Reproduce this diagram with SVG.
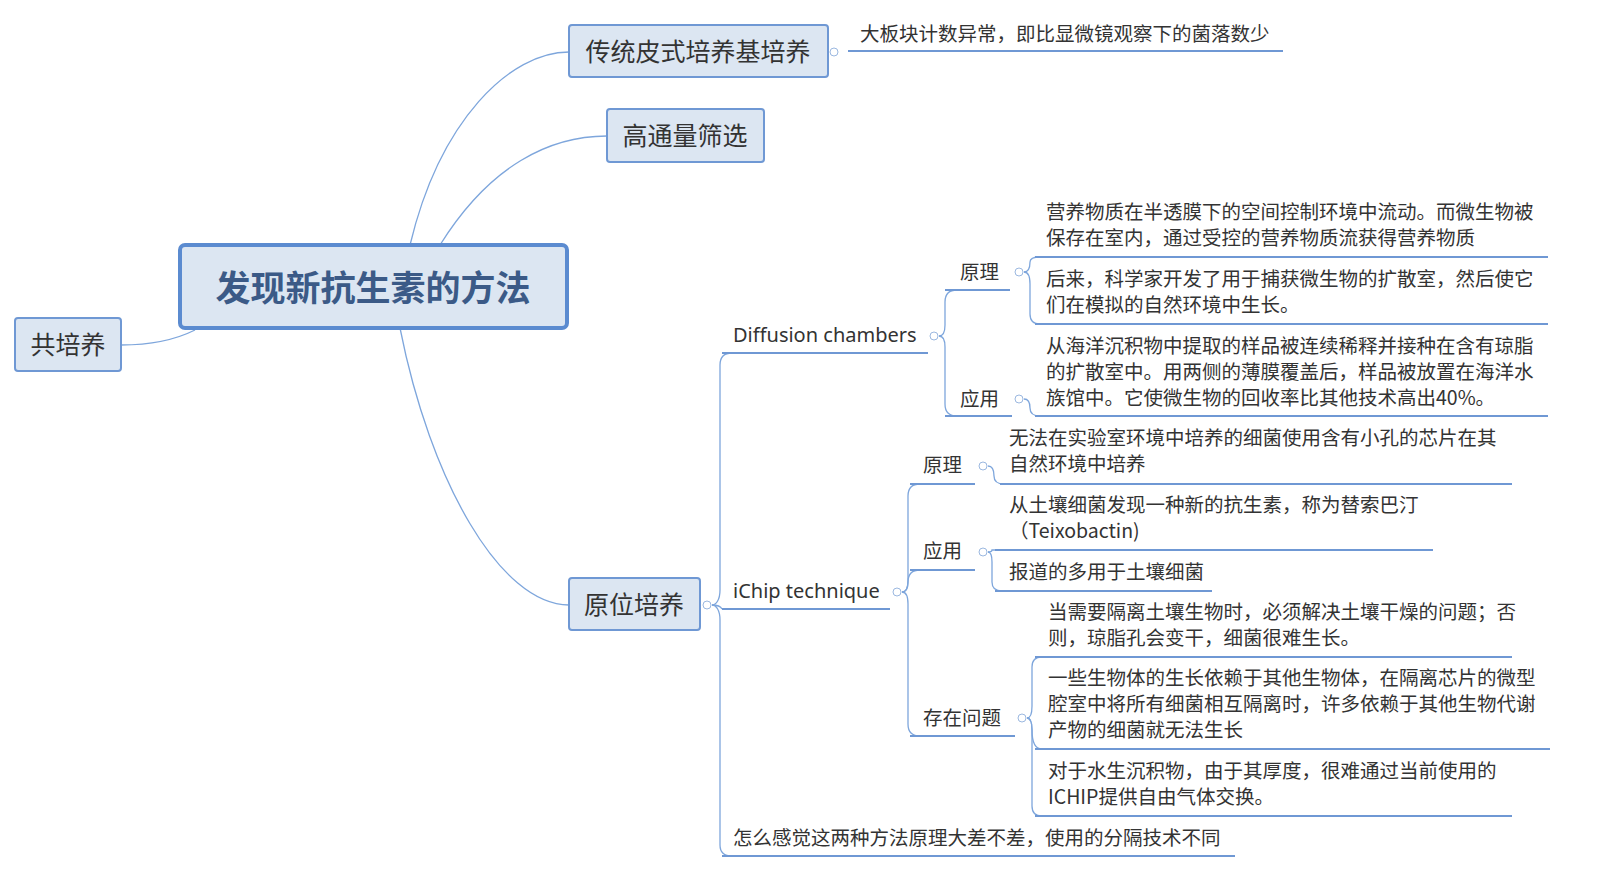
<svg xmlns="http://www.w3.org/2000/svg" width="1600" height="891" viewBox="0 0 1600 891">
<style>
text{font-family:"Noto Sans CJK SC","Microsoft YaHei",sans-serif;fill:#333}
.box{fill:#dce6f2;stroke:#6f98d4;stroke-width:2}
.t{font-size:25px}
.s{font-size:19.5px}
.e{font-size:20px;font-family:"Noto Sans",sans-serif}
.c{fill:none;stroke:#7ea6dc;stroke-width:1.3}
.u{fill:none;stroke:#6f98d4;stroke-width:2}
.m{fill:#fff;stroke:#9bb8e0;stroke-width:1}
</style>
<rect width="1600" height="891" fill="#fff"/>
<g id="connectors">
<path class="c" d="M410,245 C440,120 510,52 569,52"/>
<path class="c" d="M440,245 C490,165 550,136 607,136"/>
<path class="c" d="M195,330 C175,340 150,345 121,345"/>
<path class="c" d="M400,328 C430,480 500,605 569,605"/>
<path class="c" d="M712,605 C716,605 720,600 720,590 L720,365 Q720,353 732,353"/>
<path class="c" d="M712,605 Q720,605 722,609"/>
<path class="c" d="M712,605 C716,605 720,610 720,620 L720,845 Q720,856 732,856"/>
<path class="c" d="M939,336 Q945,336 945,325 L945,302 Q945,290 957,290"/>
<path class="c" d="M939,336 Q945,336 945,347 L945,404 Q945,416 957,416"/>
<path class="c" d="M1024,272 Q1030,272 1030,262 Q1030,257 1040,257"/>
<path class="c" d="M1024,272 Q1030,272 1030,284 L1030,314 Q1030,324 1040,324"/>
<path class="c" d="M1024,399 Q1030,399 1030,408 Q1030,416 1040,416"/>
<path class="c" d="M902,592 Q908,592 908,580 L908,496 Q908,484 920,484"/>
<path class="c" d="M902,592 Q908,592 908,582 Q908,570 920,570"/>
<path class="c" d="M902,592 Q908,592 908,604 L908,724 Q908,736 920,736"/>
<path class="c" d="M988,466 Q994,466 994,476 Q994,484 1004,484"/>
<path class="c" d="M988,552 Q992,552 992,550 L1000,550"/>
<path class="c" d="M988,552 Q992,552 992,562 L992,582 Q992,591 1002,591"/>
<path class="c" d="M1027,718 Q1032,718 1032,706 L1032,667 Q1032,657 1042,657"/>
<path class="c" d="M1027,718 Q1032,718 1032,730 Q1032,749 1042,749"/>
<path class="c" d="M1027,718 Q1032,718 1032,730 L1032,806 Q1032,816 1042,816"/>
</g>
<g id="root"><rect x="180" y="245" width="387" height="83" rx="5" fill="#dce6f2" stroke="#5b8bd0" stroke-width="4"/><text x="373" y="301" text-anchor="middle" font-size="35" font-weight="bold" style="fill:#3b5a87">发现新抗生素的方法</text></g>
<g id="n-gong"><rect class="box" x="15" y="318" width="106" height="53" rx="3"/><text class="t" x="68" y="354" text-anchor="middle">共培养</text></g>
<g id="n-chuan"><rect class="box" x="569" y="25" width="259" height="52" rx="3"/><text class="t" x="698" y="61" text-anchor="middle">传统皮式培养基培养</text><circle class="m" cx="834" cy="52" r="4"/></g>
<g id="n-gao"><rect class="box" x="607" y="109" width="157" height="53" rx="3"/><text class="t" x="685" y="145" text-anchor="middle">高通量筛选</text></g>
<g id="n-yuan"><rect class="box" x="569" y="578" width="131" height="52" rx="3"/><text class="t" x="634" y="614" text-anchor="middle">原位培养</text><circle class="m" cx="707" cy="605" r="4"/></g>
<g id="l1"><text class="s" x="860" y="41">大板块计数异常，即比显微镜观察下的菌落数少</text><line class="u" x1="848" y1="51" x2="1283" y2="51"/></g>
<g id="dc"><text class="e" x="733" y="342">Diffusion chambers</text><line class="u" x1="722" y1="353" x2="928" y2="353"/><circle class="m" cx="934" cy="336" r="4"/></g>
<g id="dc-yl"><text class="s" x="960" y="279">原理</text><line class="u" x1="945" y1="290" x2="1010" y2="290"/><circle class="m" cx="1019" cy="272" r="4"/></g>
<g id="dc-yl1"><text class="s" x="1046" y="219">营养物质在半透膜下的空间控制环境中流动。而微生物被</text><text class="s" x="1046" y="245">保存在室内，通过受控的营养物质流获得营养物质</text><line class="u" x1="1035" y1="257" x2="1548" y2="257"/></g>
<g id="dc-yl2"><text class="s" x="1046" y="286">后来，科学家开发了用于捕获微生物的扩散室，然后使它</text><text class="s" x="1046" y="312">们在模拟的自然环境中生长。</text><line class="u" x1="1035" y1="324" x2="1548" y2="324"/></g>
<g id="dc-yy"><text class="s" x="960" y="406">应用</text><line class="u" x1="945" y1="416" x2="1012" y2="416"/><circle class="m" cx="1019" cy="399" r="4"/></g>
<g id="dc-yy1"><text class="s" x="1046" y="353">从海洋沉积物中提取的样品被连续稀释并接种在含有琼脂</text><text class="s" x="1046" y="379">的扩散室中。用两侧的薄膜覆盖后，样品被放置在海洋水</text><text class="s" x="1046" y="405">族馆中。它使微生物的回收率比其他技术高出40%。</text><line class="u" x1="1035" y1="416" x2="1548" y2="416"/></g>
<g id="ic"><text class="e" x="733" y="598">iChip technique</text><line class="u" x1="722" y1="609" x2="890" y2="609"/><circle class="m" cx="897" cy="592" r="4"/></g>
<g id="ic-yl"><text class="s" x="923" y="472">原理</text><line class="u" x1="910" y1="484" x2="975" y2="484"/><circle class="m" cx="983" cy="466" r="4"/></g>
<g id="ic-yl1"><text class="s" x="1009" y="445">无法在实验室环境中培养的细菌使用含有小孔的芯片在其</text><text class="s" x="1009" y="471">自然环境中培养</text><line class="u" x1="1000" y1="484" x2="1512" y2="484"/></g>
<g id="ic-yy"><text class="s" x="923" y="558">应用</text><line class="u" x1="910" y1="570" x2="975" y2="570"/><circle class="m" cx="983" cy="552" r="4"/></g>
<g id="ic-yy1"><text class="s" x="1009" y="512">从土壤细菌发现一种新的抗生素，称为替索巴汀</text><text class="s" x="1009" y="538">（Teixobactin)</text><line class="u" x1="995" y1="550" x2="1433" y2="550"/></g>
<g id="ic-yy2"><text class="s" x="1009" y="579">报道的多用于土壤细菌</text><line class="u" x1="995" y1="591" x2="1212" y2="591"/></g>
<g id="ic-wt"><text class="s" x="923" y="725">存在问题</text><line class="u" x1="910" y1="736" x2="1015" y2="736"/><circle class="m" cx="1022" cy="718" r="4"/></g>
<g id="ic-wt1"><text class="s" x="1048" y="619">当需要隔离土壤生物时，必须解决土壤干燥的问题；否</text><text class="s" x="1048" y="645">则，琼脂孔会变干，细菌很难生长。</text><line class="u" x1="1035" y1="657" x2="1512" y2="657"/></g>
<g id="ic-wt2"><text class="s" x="1048" y="685">一些生物体的生长依赖于其他生物体，在隔离芯片的微型</text><text class="s" x="1048" y="711">腔室中将所有细菌相互隔离时，许多依赖于其他生物代谢</text><text class="s" x="1048" y="737">产物的细菌就无法生长</text><line class="u" x1="1035" y1="749" x2="1550" y2="749"/></g>
<g id="ic-wt3"><text class="s" x="1048" y="778">对于水生沉积物，由于其厚度，很难通过当前使用的</text><text class="s" x="1048" y="804">ICHIP提供自由气体交换。</text><line class="u" x1="1035" y1="816" x2="1512" y2="816"/></g>
<g id="note"><text class="s" x="733" y="845">怎么感觉这两种方法原理大差不差，使用的分隔技术不同</text><line class="u" x1="722" y1="856" x2="1235" y2="856"/></g>
</svg>
